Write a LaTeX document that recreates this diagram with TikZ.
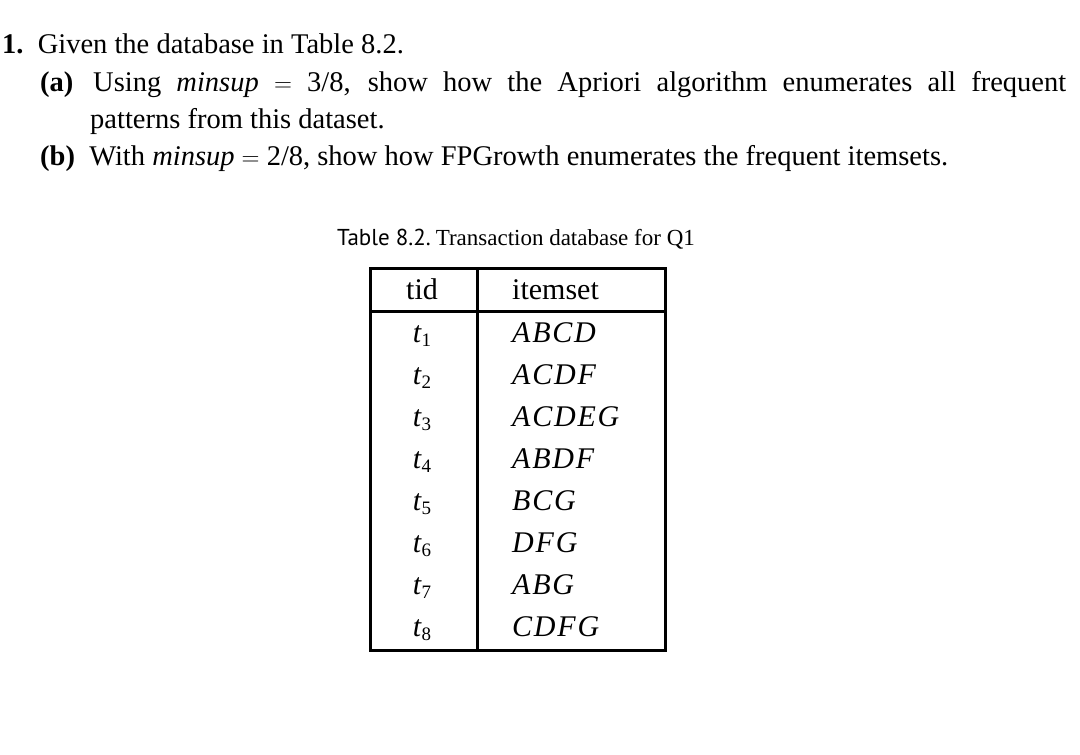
\documentclass[tikz,border=0pt]{standalone}
\usepackage{fontspec}
\setmainfont{Liberation Serif}
\newfontfamily\capsans{PT Sans}
\tikzset{x=1pt,y=-1pt,
 txt/.style={anchor=base west,inner sep=0pt,font=\fontsize{28.5}{37}\selectfont},
 cell/.style={anchor=base,inner sep=0pt,font=\fontsize{30}{30}\selectfont},
 tline/.style={line width=3pt}}
\newcommand\tsub[1]{\textit{t}\raisebox{-4pt}{\fontsize{19}{19}\selectfont #1}}
\begin{document}
\begin{tikzpicture}
\useasboundingbox (0,0) rectangle (1080,755);
\node[txt] (n1) at (2,53) {\textbf{1.}\ \ Given the database in Table 8.2.};
\node[txt] (na) at (40,91) {\textbf{(a)}};
\node[txt] (ta) at (93,91) {\makebox[973pt][s]{Using \textit{minsup} $=$ 3/8, show how the Apriori algorithm enumerates all frequent}};
\node[txt] (ta2) at (90,128) {patterns from this dataset.};
\node[txt] (nb) at (40,165) {\textbf{(b)}\ \ With \textit{minsup} $=$ 2/8, show how FPGrowth enumerates the frequent itemsets.};
\node[anchor=base,inner sep=0pt] (cap) at (516,245) {{\capsans\fontsize{23}{24}\selectfont Table 8.2.}\ \ {\fontsize{23}{24}\selectfont Transaction database for Q1}};
\draw[tline] (370,268) rectangle (665,650);
\draw[tline] (477,268) -- (477,650);
\draw[tline] (370,311) -- (665,311);
\node[cell] (h1) at (422,299) {tid};
\node[cell,anchor=base west] (h2) at (512,299) {itemset};
\foreach \i/\s [count=\k] in {1/ABCD,2/ACDF,3/ACDEG,4/ABDF,5/BCG,6/DFG,7/ABG,8/CDFG}{
  \node[cell] (r\k) at (422,{342+42*(\k-1)}) {\tsub{\i}};
  \node[cell,anchor=base west] (s\k) at (512,{342+42*(\k-1)}) {\addfontfeature{LetterSpace=6}\textit{\s}};
}
\end{tikzpicture}
\end{document}
